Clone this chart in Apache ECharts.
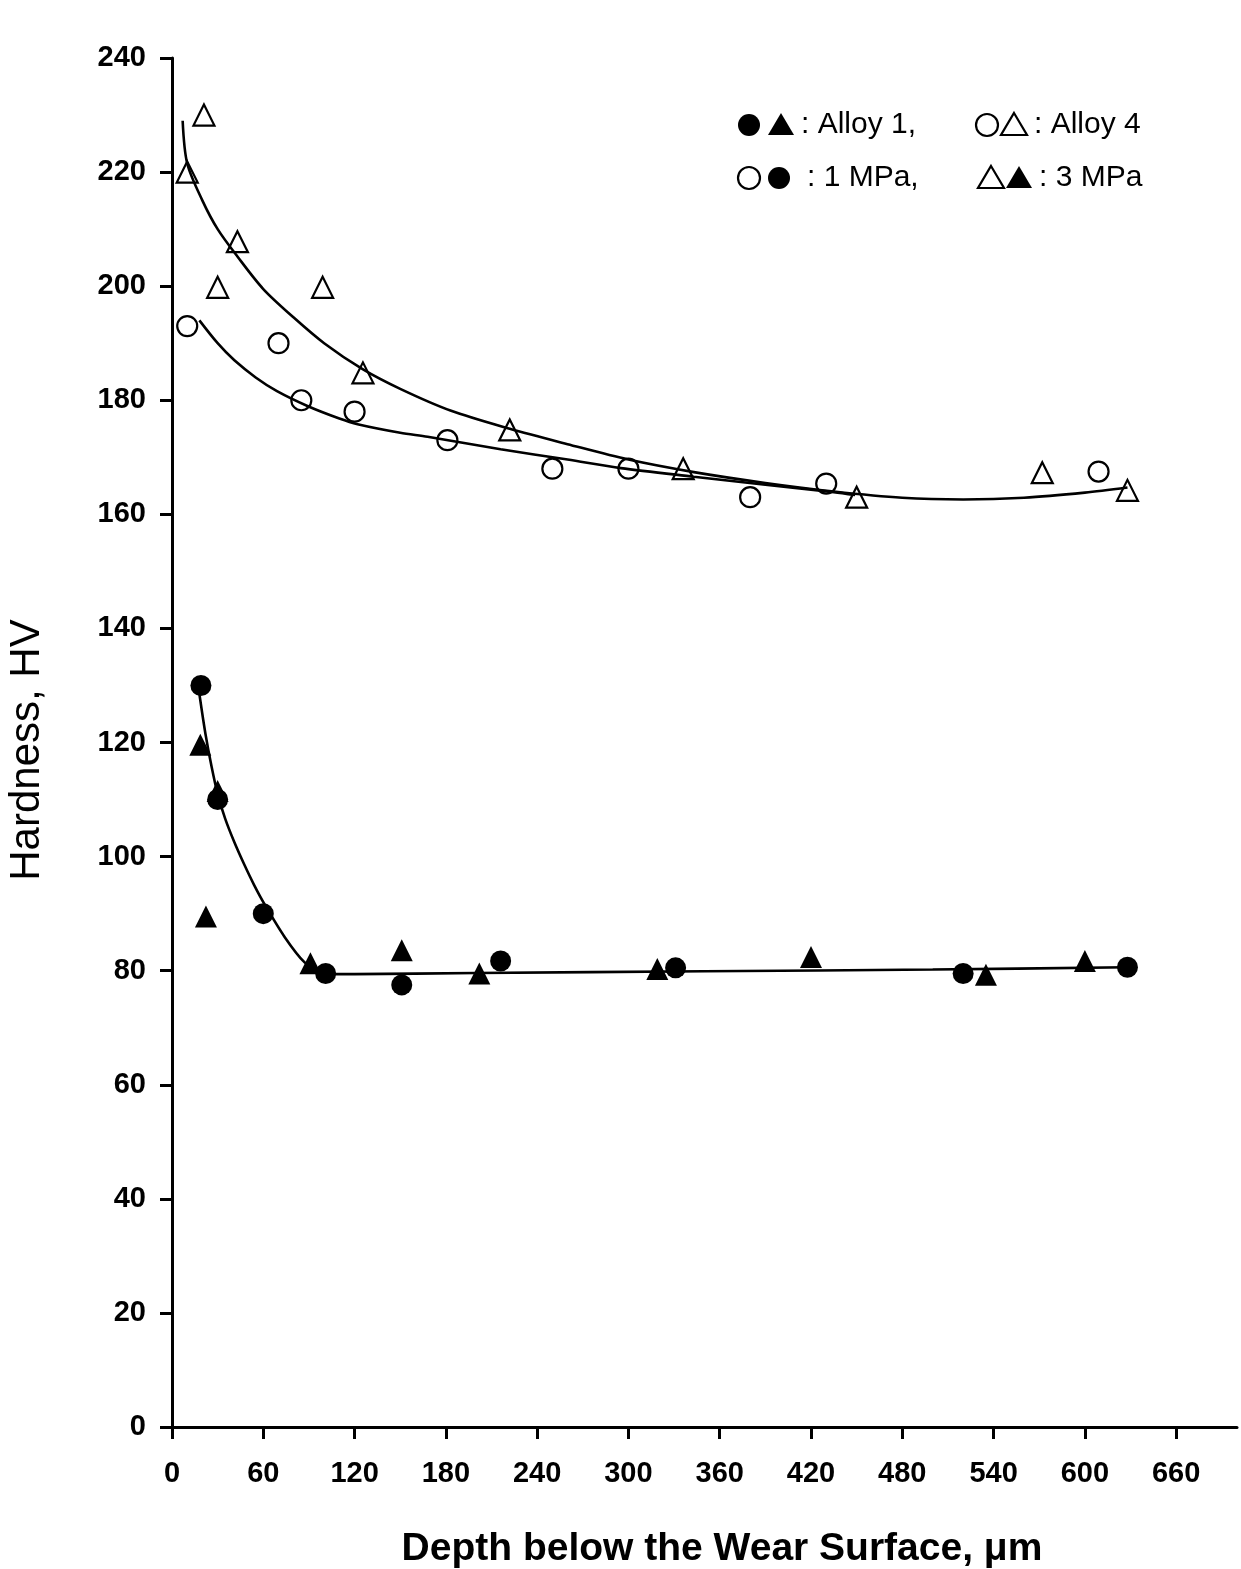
<!DOCTYPE html>
<html>
<head>
<meta charset="utf-8">
<script src="https://cdn.jsdelivr.net/npm/echarts@6/dist/echarts.min.js"></script>
<style>
  html, body { margin: 0; padding: 0; background: #fff; }
  #main { width: 1241px; height: 1569px; }
</style>
</head>
<body>
<div id="main"></div>
<script>
// x tick labels (depth, um)
var xTicks = [0, 60, 120, 180, 240, 300, 360, 420, 480, 540, 600, 660];

// measured points [depth, hardness]
var alloy1_1MPa = [[19, 130], [30, 110], [60, 90], [101, 79.5], [151, 77.5], [216, 81.7], [331, 80.5], [520, 79.5], [628, 80.6]];
var alloy1_3MPa = [[18.6, 119.6], [30, 111.5], [22.3, 89.5], [91, 81.3], [151, 83.6], [202, 79.5], [319, 80.3], [420, 82.4], [535, 79.3], [600, 81.7]];
var alloy4_1MPa = [[10, 193], [70, 190], [85, 180], [120, 178], [181, 173], [250, 168], [300, 168], [380, 163], [430, 165.4], [609, 167.5]];
var alloy4_3MPa = [[10, 220], [21, 230], [43, 207.8], [30, 199.8], [99, 199.8], [125.5, 184.8], [222, 174.8], [336, 168], [450, 163], [572, 167.3], [628, 164.2]];

// fitted curves
var fitAlloy4_3MPa = [[7, 229], [10, 221.5], [20, 215], [30, 210], [43, 205.2], [60, 199.5], [80, 194.5], [100, 190], [125, 185.5], [150, 182], [183, 178.2], [222, 175], [260, 172.3], [300, 169.6], [343, 167.4], [390, 165.5], [435, 164], [480, 162.9], [520, 162.6], [560, 162.9], [600, 163.8], [628, 164.7]];
var fitAlloy4_1MPa = [[18, 194], [30, 190], [41, 187], [55, 184], [69, 181.6], [89, 179], [110, 176.8], [122, 175.8], [150, 174.3], [168, 173.6], [216, 171.4], [260, 169.6], [295, 168.1], [343, 166.6], [390, 165.2], [435, 163.9], [449, 163.4]];
var fitAlloy1 = [[18, 128.5], [22, 121.5], [26, 115.8], [30, 111], [35, 106.6], [41, 102.5], [47.5, 98.6], [54, 95], [60.7, 91.7], [73.8, 86], [87, 81.5], [100, 79.4], [120, 79.4], [200, 79.6], [350, 79.9], [500, 80.2], [628, 80.6]];

var chart = echarts.init(document.getElementById('main'));
var font = 'Liberation Sans, Arial, sans-serif';

function fitLine(data) {
    return {
        type: 'line',
        data: data,
        smooth: 0.3,
        symbol: 'none',
        silent: true,
        z: 2,
        lineStyle: { color: '#000', width: 2.6 }
    };
}

function points(data, symbol, filled, size) {
    return {
        type: 'scatter',
        data: data,
        symbol: symbol,
        symbolSize: size,
        z: 3,
        itemStyle: {
            opacity: 1,
            color: filled ? '#000' : 'rgba(255,255,255,0)',
            borderColor: '#000',
            borderWidth: filled ? 0 : 2.2
        }
    };
}

// legend glyphs drawn as shapes
function dot(cx, cy, filled) {
    return { type: 'circle', shape: { cx: cx, cy: cy, r: 11 },
        style: { fill: filled ? '#000' : '#fff', stroke: '#000', lineWidth: filled ? 0 : 2.2 } };
}
function tri(cx, cy, filled) {
    return { type: 'polygon', shape: { points: [[cx, cy - 12], [cx + 13, cy + 10], [cx - 13, cy + 10]] },
        style: { fill: filled ? '#000' : '#fff', stroke: '#000', lineWidth: filled ? 0 : 2.2 } };
}
function label(x, y, text) {
    return { type: 'text', x: x, y: y,
        style: { text: text, font: '30px ' + font, fill: '#000', verticalAlign: 'middle' } };
}

var option = {
    backgroundColor: '#fff',
    animation: false,
    textStyle: { fontFamily: font },
    grid: { left: 172, right: 4, top: 58, bottom: 142, containLabel: false },
    xAxis: {
        type: 'value',
        min: 0,
        max: 700,
        axisLine: { show: true, lineStyle: { color: '#000', width: 3 } },
        axisTick: { show: true, inside: false, length: 12, lineStyle: { color: '#000', width: 3 }, customValues: xTicks },
        axisLabel: { fontSize: 29, fontWeight: 'bold', color: '#000', margin: 32, customValues: xTicks, fontFamily: font },
        splitLine: { show: false }
    },
    yAxis: {
        type: 'value',
        min: 0,
        max: 240,
        interval: 20,
        axisLine: { show: true, lineStyle: { color: '#000', width: 3 } },
        axisTick: { show: true, inside: false, length: 12, lineStyle: { color: '#000', width: 3 } },
        axisLabel: { fontSize: 29, fontWeight: 'bold', color: '#000', margin: 26, fontFamily: font },
        splitLine: { show: false }
    },
    graphic: [
        { type: 'text', x: 722, y: 1549,
          style: { text: 'Depth below the Wear Surface, \u03bcm', font: 'bold 39px ' + font, fill: '#000', align: 'center', verticalAlign: 'middle' } },
        { type: 'text', x: 27, y: 750, rotation: Math.PI / 2,
          style: { text: 'Hardness, HV', font: '42px ' + font, fill: '#000', align: 'center', verticalAlign: 'middle' } },
        dot(749, 125, true), tri(781, 125, true), label(801, 125, ': Alloy 1,'),
        dot(987, 125, false), tri(1014, 125, false), label(1034, 125, ': Alloy 4'),
        dot(749, 178, false), dot(779, 178, true), label(807, 178, ': 1 MPa,'),
        tri(991, 178, false), tri(1019, 178, true), label(1039, 178, ': 3 MPa')
    ],
    series: [
        fitLine(fitAlloy4_3MPa),
        fitLine(fitAlloy4_1MPa),
        fitLine(fitAlloy1),
        points(alloy4_1MPa, 'circle', false, 20),
        points(alloy4_3MPa, 'triangle', false, 21),
        points(alloy1_1MPa, 'circle', true, 21),
        points(alloy1_3MPa, 'triangle', true, 22)
    ]
};
chart.setOption(option);
</script>
</body>
</html>
